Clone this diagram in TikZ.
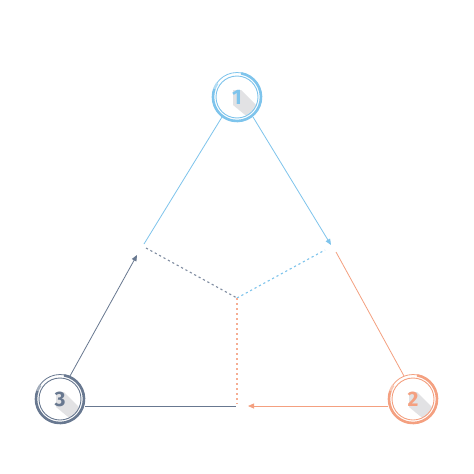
\documentclass[tikz,border=0pt]{standalone}
\usepackage{fontspec}
\setsansfont{Fira Sans}
\usetikzlibrary{arrows.meta}
\definecolor{cblue}{HTML}{7EC4EC}
\definecolor{corange}{HTML}{F4A080}
\definecolor{cgray}{HTML}{687890}
\definecolor{cshadow}{HTML}{E2E2E4}
\tikzset{
  conn/.style={line width=0.8pt},
  arr/.style={conn,-{Triangle[length=6pt,width=5pt]}},
  dsh/.style={line width=1.1pt,dash pattern=on 2.2pt off 2.8pt},
  digit/.style={font=\sffamily\bfseries\fontsize{21}{21}\selectfont,inner sep=0pt}
}
\newcommand{\badge}[4]{% name, x, y, colour
  \begin{scope}
    \clip (#2,#3) circle (21pt);
    \fill[cshadow] (#2-4,#3-7) -- (#2+4,#3-7) -- (#2+33,#3+22) -- (#2+24,#3+31) -- (#2-4,#3+8) -- cycle;
  \end{scope}
  \draw[#4,line width=0.9pt] (#2,#3) circle (21pt);
  \draw[#4,line width=0.8pt] (#2,#3) circle (24.5pt);
  \draw[#4,line width=2.6pt] ([shift={(80:24pt)}]#2,#3) arc[start angle=80,end angle=-200,radius=24pt];
  \draw[#4!60,line width=2.6pt] ([shift={(-200:24pt)}]#2,#3) arc[start angle=-200,end angle=-215,radius=24pt];
}
\begin{document}
\begin{tikzpicture}[x=1pt,y=-1pt]
\useasboundingbox (0,0) rectangle (474,474);
\fill[white] (0,0) rectangle (474,474);
% badges
\badge{b1}{237}{97}{cblue}
\badge{b2}{413}{399}{corange}
\badge{b3}{60}{399}{cgray}
\node[digit,text=cblue] (n1) at (237,97) {1};
\node[digit,text=corange] (n2) at (413,399) {2};
\node[digit,text=cgray] (n3) at (60,399) {3};
% connector endpoints
\coordinate (p1a) at (222,117);
\coordinate (p1b) at (144,244);
\coordinate (p1c) at (253,117);
\coordinate (p1d) at (331,245);
\coordinate (p2a) at (336,252);
\coordinate (p2b) at (404,376);
\coordinate (p2c) at (388,406);
\coordinate (p2d) at (248,406);
\coordinate (p3a) at (85,406);
\coordinate (p3b) at (236,406);
\coordinate (p3c) at (70,376);
\coordinate (p3d) at (137,255);
\coordinate (m) at (237,298);
\coordinate (g1) at (146,248);
\coordinate (g2) at (325,250);
\coordinate (g3) at (237,404);
\draw[conn,cblue] (p1a) -- (p1b);
\draw[arr,cblue] (p1c) -- (p1d);
\draw[conn,corange] (p2a) -- (p2b);
\draw[arr,corange] (p2c) -- (p2d);
\draw[conn,cgray] (p3a) -- (p3b);
\draw[arr,cgray] (p3c) -- (p3d);
\draw[dsh,cgray!85] (g1) -- (m);
\draw[dsh,cblue] (m) -- (g2);
\draw[dsh,corange!85] (m) -- (g3);
\end{tikzpicture}
\end{document}
